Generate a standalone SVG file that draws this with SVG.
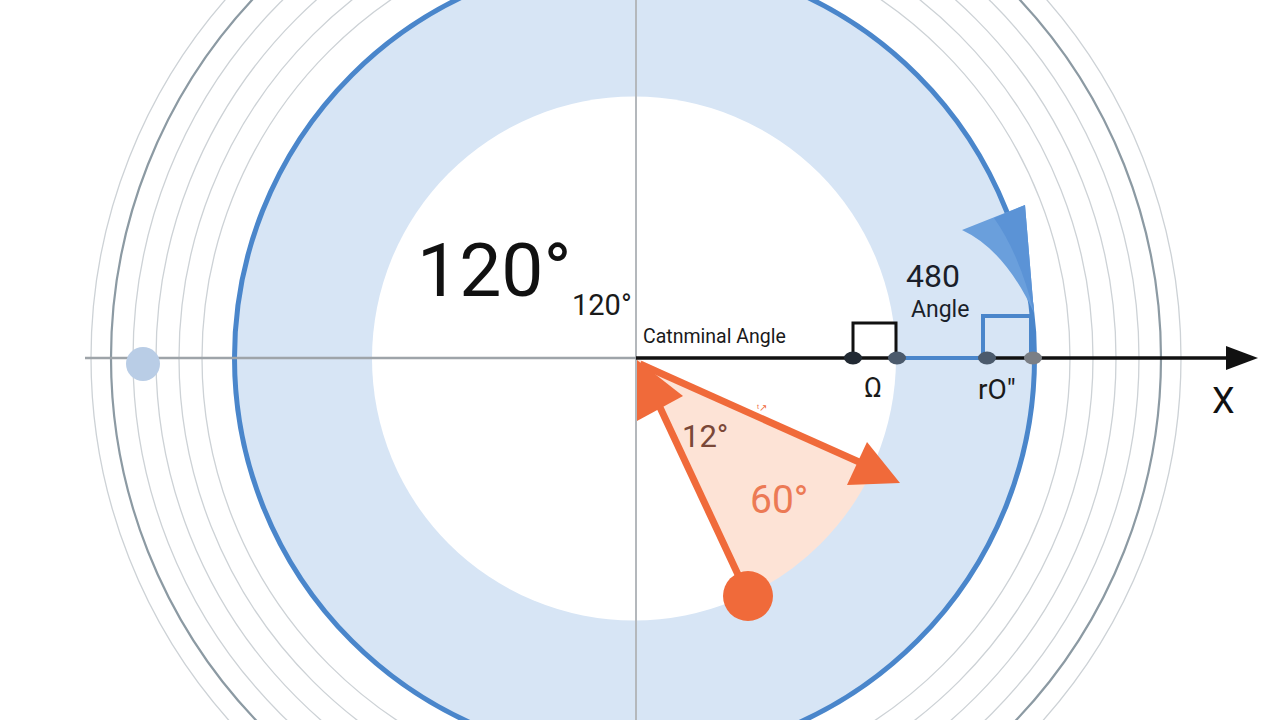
<svg xmlns="http://www.w3.org/2000/svg" width="1280" height="720" viewBox="0 0 1280 720">
<style>
.ring{fill:none;stroke:#cdd2d6;stroke-width:1.3}
.ringd{fill:none;stroke:#8c9aa3;stroke-width:2.2}
.t{font-family:Roboto,"Liberation Sans",sans-serif}
.ol{stroke:#f06a3a;stroke-width:7;fill:none;stroke-linecap:butt}
.of{fill:#f06a3a}
.dot{fill:#4b5a6c}
</style>
<rect width="1280" height="720" fill="#ffffff"/>
<g id="rings">
<circle class="ring" cx="636" cy="358" r="434"/>
<circle class="ring" cx="636" cy="358" r="457"/>
<circle class="ring" cx="636" cy="358" r="480"/>
<circle class="ring" cx="636" cy="358" r="503"/>
<circle class="ringd" cx="636" cy="358" r="525"/>
<circle class="ring" cx="636" cy="358" r="545"/>
</g>
<g id="disc">
<circle cx="634.5" cy="358" r="400" fill="#d7e5f5" stroke="#4a86cb" stroke-width="5"/>
<circle cx="634" cy="358.5" r="262" fill="#ffffff"/>
</g>
<g id="sector">
<path d="M636,358 L872,471 A262,262 0 0 1 748,595 Z" fill="#fde3d6"/>
</g>
<g id="axes">
<line x1="636" y1="0" x2="636" y2="720" stroke="#b4b8bc" stroke-width="2"/>
<line x1="85" y1="358" x2="636" y2="358" stroke="#9ea4a9" stroke-width="2.5"/>
</g>
<g id="left-dot"><circle cx="143" cy="364" r="17" fill="#b9cde6"/></g>
<g id="connectors">
<line x1="636" y1="358" x2="1230" y2="358" stroke="#111111" stroke-width="3.5"/>
<polygon points="1226,346 1258,358 1226,370" fill="#111111"/>
<line x1="897" y1="358" x2="987" y2="358" stroke="#4a86cb" stroke-width="4"/>
<line class="ol" x1="640" y1="364" x2="868" y2="466"/>
<polygon class="of" points="867,442 847,485 900,483"/>
<line class="ol" x1="748" y1="596" x2="650" y2="386"/>
<polygon class="of" points="637,360 683,396 637,421"/>
<path d="M962,230 L1025,205 L1034,313 Q1005,250 962,230 Z" fill="#6a9fdc"/>
<path d="M994,218 L1025,205 L1034,313 Q1020,255 994,218 Z" fill="#5b93d6"/>
</g>
<g id="markers">
<path d="M853,358 V323 H896 V358" fill="none" stroke="#111111" stroke-width="3"/>
<path d="M983,358 V316 H1031 V358" fill="none" stroke="#4a86cb" stroke-width="4"/>
<ellipse cx="853" cy="358" rx="9" ry="6.5" fill="#222a33"/>
<ellipse class="dot" cx="897" cy="358" rx="9" ry="6.5"/>
<ellipse class="dot" cx="987" cy="358" rx="9" ry="6.5"/>
<ellipse cx="1033" cy="358" rx="9" ry="6.5" fill="#7b7f85"/>
<circle cx="748" cy="596" r="25" fill="#f06a3a"/>
</g>
<g id="labels">
<text class="t" x="417" y="296" font-size="75" fill="#111111">120°</text>
<text class="t" x="572" y="315" font-size="29" fill="#1a1a1a">120°</text>
<text class="t" x="643" y="343" font-size="19.5" fill="#1a1a1a">Catnminal Angle</text>
<text class="t" x="864" y="397" font-size="27" fill="#1a1a1a">Ω</text>
<text class="t" x="906" y="287" font-size="32" fill="#1a1f2a">480</text>
<text class="t" x="911" y="317" font-size="23" fill="#1a1f2a">Angle</text>
<text class="t" x="978" y="399" font-size="28" fill="#1a1a1a">rO"</text>
<text class="t" x="1212" y="413" font-size="36" fill="#111111">X</text>
<text class="t" x="682" y="447" font-size="31" fill="#7a4838">12°</text>
<text class="t" x="750" y="513" font-size="39" fill="#ec7a55">60°</text>
<text class="t" x="757" y="411" font-size="10" fill="#f06a3a">ᵗ↗</text>
</g>
</svg>
